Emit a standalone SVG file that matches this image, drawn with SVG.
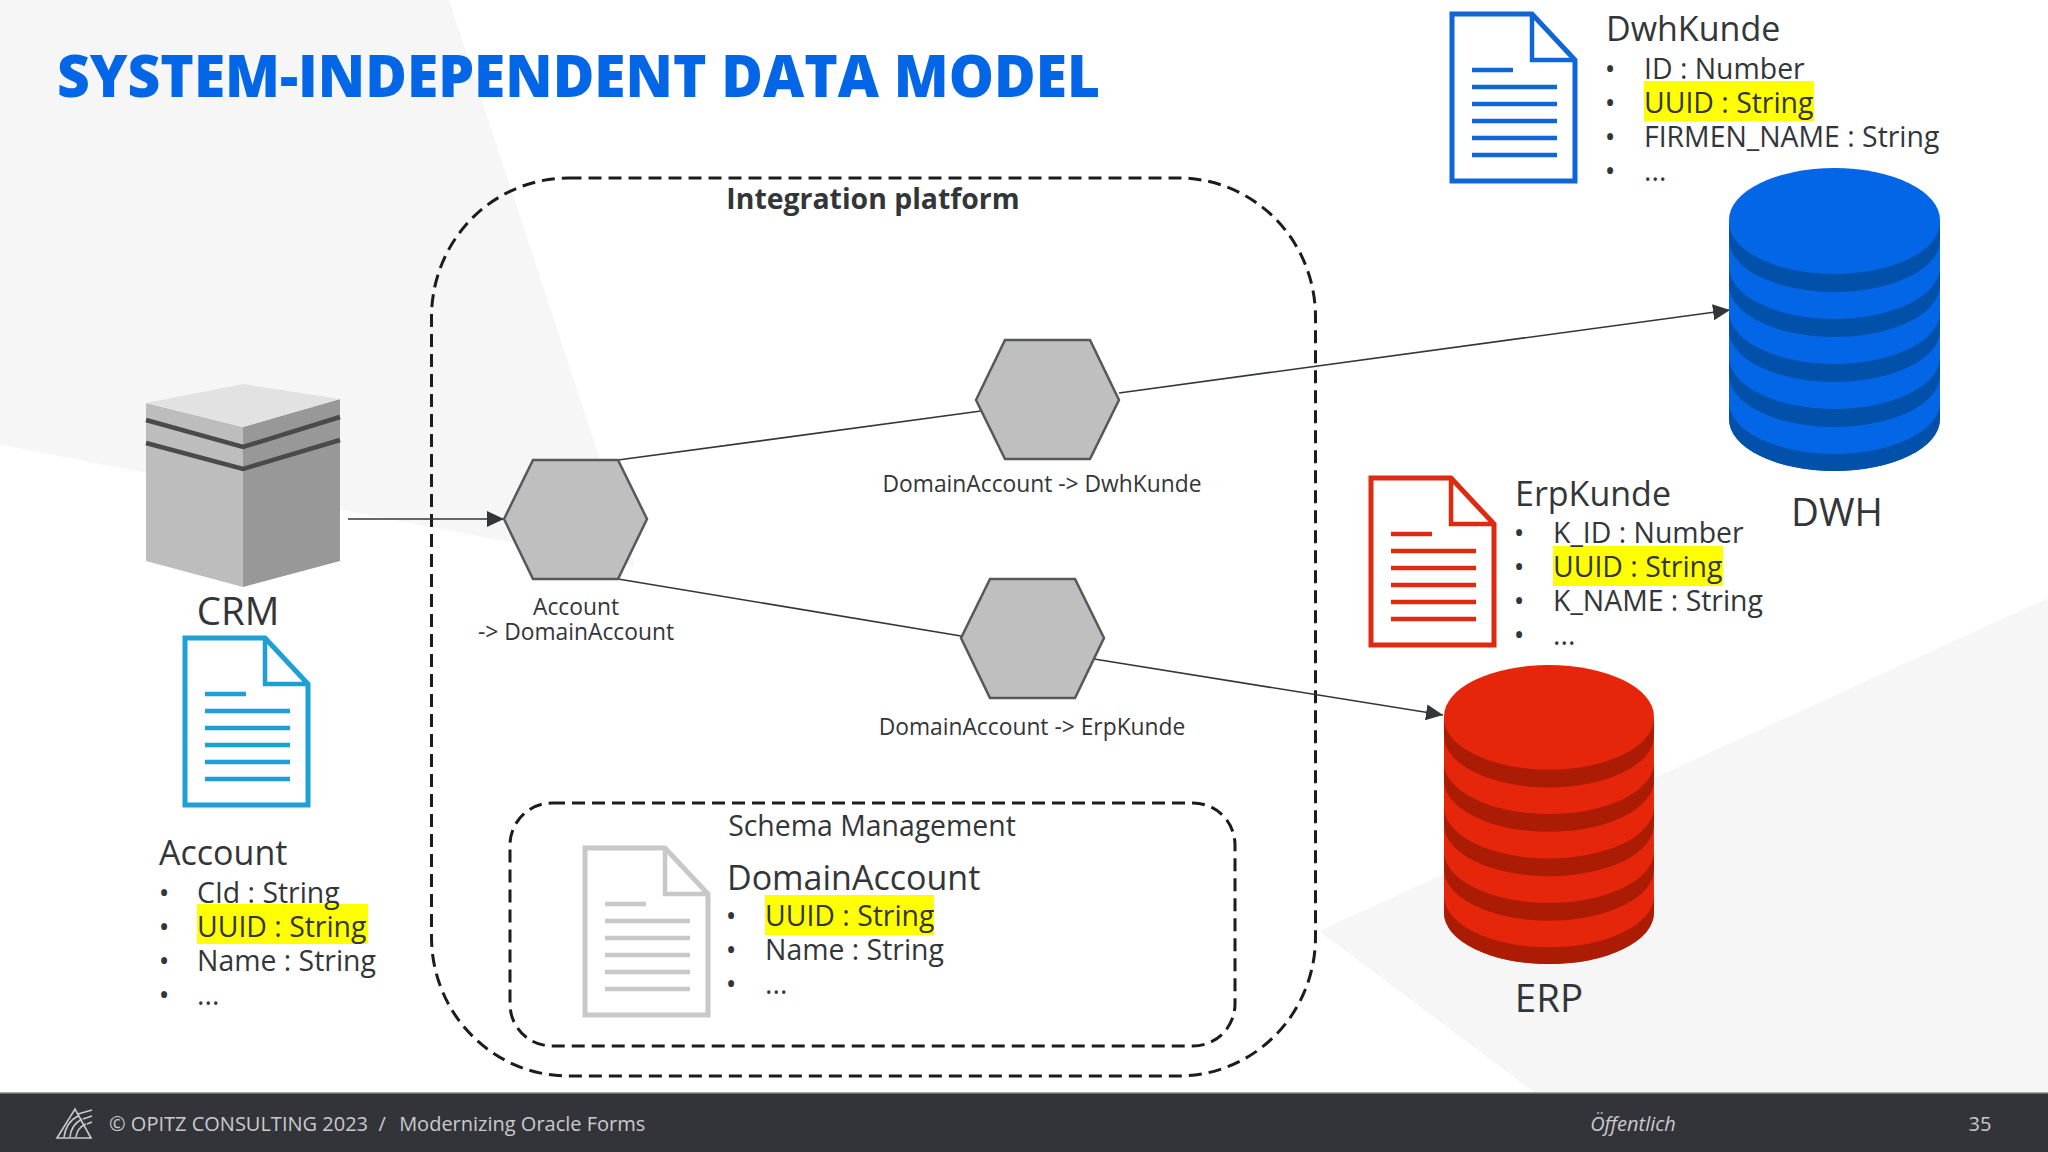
<svg xmlns="http://www.w3.org/2000/svg" width="2048" height="1152" viewBox="0 0 2048 1152">
<style>
text{font-family:"Open Sans","Noto Sans",sans-serif;fill:#333639}
.h{font-size:34px}
.a{font-size:28.4px}
.l{font-size:22.8px}
.n{font-size:38.5px}
.f{font-size:20px;fill:#c9cacc}
.hl{fill:#ffff00}
.dash{fill:none;stroke:#1c1c1c;stroke-width:3;stroke-dasharray:13 7}
.hex{fill:#bfbfbf;stroke:#55585c;stroke-width:2.5}
.conn{fill:none;stroke:#333639;stroke-width:1.7;marker-end:url(#arrow)}
.plain{fill:none;stroke:#333639;stroke-width:1.7}
.doc{fill:#fff;stroke-width:5}
.docl{fill:none;stroke-width:4.5}
</style>
<defs>
<marker id="arrow" markerUnits="userSpaceOnUse" markerWidth="18" markerHeight="16" refX="17" refY="8" orient="auto"><path d="M0,0 L17,8 L0,16 z" fill="#333639"/></marker>
<g id="docshape">
<path class="doc" d="M0,0 H80 L123,46 V167 H0 Z"/>
<path class="docl" d="M80,0 V46 H123"/>
<path class="docl" d="M20,56 H61 M20,73 H105 M20,90 H105 M20,107 H105 M20,124 H105 M20,141 H105"/>
</g>
<path id="cylbody" d="M0,52 A105.5,52 0 0 1 211,52 V251 A105.5,52 0 0 1 0,251 Z"/>
<path id="cylbands" d="M0,54 A105.5,52 0 0 0 211,54 V72 A105.5,52 0 0 1 0,72 Z M0,99 A105.5,52 0 0 0 211,99 V117 A105.5,52 0 0 1 0,117 Z M0,144 A105.5,52 0 0 0 211,144 V162 A105.5,52 0 0 1 0,162 Z M0,189 A105.5,52 0 0 0 211,189 V207 A105.5,52 0 0 1 0,207 Z M0,234 A105.5,52 0 0 0 211,234 V251 A105.5,52 0 0 1 0,251 Z"/>
</defs>
<rect width="2048" height="1152" fill="#fff"/>
<g id="background">
<path d="M0,0 H449 L635,566 L0,445 Z" fill="#f6f6f7"/>
<path d="M2048,598 L1319,931 L1535,1093 H2048 Z" fill="#f6f6f7"/>
</g>
<text x="57" y="97" font-size="59" font-weight="800" textLength="1043" lengthAdjust="spacingAndGlyphs" style="fill:#0366e6">SYSTEM-INDEPENDENT DATA MODEL</text>

<g id="integration-platform">
<rect class="dash" x="431.5" y="178" width="884" height="898" rx="137" ry="139"/>
<text x="873" y="209" font-size="28.4" font-weight="700" text-anchor="middle">Integration platform</text>
</g>
<g id="schema-management">
<rect class="dash" x="510" y="803" width="725" height="243" rx="42" ry="42"/>
<text x="872" y="836" font-size="28.4" text-anchor="middle">Schema Management</text>
<use href="#docshape" x="585" y="848" stroke="#c8c8c8"/>
<text class="h" x="727" y="890">DomainAccount</text>
<rect class="hl" x="765" y="895" width="169" height="40"/>
<text class="a" x="731" y="926" text-anchor="middle">•</text><text class="a" x="765" y="926">UUID : String</text>
<text class="a" x="731" y="960" text-anchor="middle">•</text><text class="a" x="765" y="960">Name : String</text>
<text class="a" x="731" y="994" text-anchor="middle">•</text><text class="a" x="765" y="994">...</text>
</g>

<g id="connectors">
<path class="conn" d="M348,519 H504"/>
<path class="plain" d="M618,460 L981,411"/>
<path class="conn" d="M1119,393 L1730,310"/>
<path class="plain" d="M618,579 L961,636"/>
<path class="conn" d="M1094,659 L1443,715"/>
</g>

<g id="crm">
<path d="M146,403 L243,427 V587 L146,561 Z" fill="#bdbdbd"/>
<path d="M243,427 L340,399 V561 L243,587 Z" fill="#989898"/>
<path d="M146,403 L243,384 L340,399 L243,427 Z" fill="#e2e2e2"/>
<path d="M146,420 L243,447 L340,417 M146,443 L243,469 L340,440" fill="none" stroke="#4a4a4a" stroke-width="4.5"/>
<text class="n" x="238" y="625" text-anchor="middle">CRM</text>
</g>
<g id="account">
<use href="#docshape" x="185" y="638" stroke="#1e9fd6"/>
<text class="h" x="159" y="865">Account</text>
<rect class="hl" x="197" y="904" width="171" height="40"/>
<text class="a" x="164" y="903" text-anchor="middle">•</text><text class="a" x="197" y="903">CId : String</text>
<text class="a" x="164" y="937" text-anchor="middle">•</text><text class="a" x="197" y="937">UUID : String</text>
<text class="a" x="164" y="971" text-anchor="middle">•</text><text class="a" x="197" y="971">Name : String</text>
<text class="a" x="164" y="1005" text-anchor="middle">•</text><text class="a" x="197" y="1005">...</text>
</g>
<g id="hex-account">
<path class="hex" d="M504,519 L533,460 H618 L647,519 L618,579 H533 Z"/>
<text class="l" x="576" y="615" text-anchor="middle">Account</text>
<text class="l" x="576" y="640" text-anchor="middle">-&gt; DomainAccount</text>
</g>
<g id="hex-dwh">
<path class="hex" d="M976,400 L1005,340 H1090 L1119,400 L1090,459 H1005 Z"/>
<text class="l" x="1042" y="492" text-anchor="middle">DomainAccount -&gt; DwhKunde</text>
</g>
<g id="hex-erp">
<path class="hex" d="M961,638 L990,579 H1075 L1104,638 L1075,698 H990 Z"/>
<text class="l" x="1032" y="735" text-anchor="middle">DomainAccount -&gt; ErpKunde</text>
</g>
<g id="dwh">
<use href="#cylbody" x="1729" y="168" fill="#0366e6"/>
<use href="#cylbands" x="1729" y="168" fill="#0150aa"/>
<text class="n" x="1837" y="526" text-anchor="middle">DWH</text>
</g>
<g id="dwhkunde">
<use href="#docshape" x="1452" y="14" stroke="#0f66d8"/>
<text class="h" x="1606" y="41">DwhKunde</text>
<rect class="hl" x="1644" y="81" width="170" height="40"/>
<text class="a" x="1610" y="79" text-anchor="middle">•</text><text class="a" x="1644" y="79">ID : Number</text>
<text class="a" x="1610" y="113" text-anchor="middle">•</text><text class="a" x="1644" y="113">UUID : String</text>
<text class="a" x="1610" y="147" text-anchor="middle">•</text><text class="a" x="1644" y="147">FIRMEN_NAME : String</text>
<text class="a" x="1610" y="181" text-anchor="middle">•</text><text class="a" x="1644" y="181">...</text>
</g>
<g id="erp">
<g transform="translate(1444,665) scale(0.995,0.987)">
<use href="#cylbody" fill="#e6260a"/>
<use href="#cylbands" fill="#ac1c04"/>
</g>
<text class="n" x="1549" y="1012" text-anchor="middle">ERP</text>
</g>
<g id="erpkunde">
<use href="#docshape" x="1371" y="478" stroke="#dd2a10"/>
<text class="h" x="1515" y="506">ErpKunde</text>
<rect class="hl" x="1553" y="546" width="170" height="40"/>
<text class="a" x="1519" y="543" text-anchor="middle">•</text><text class="a" x="1553" y="543">K_ID : Number</text>
<text class="a" x="1519" y="577" text-anchor="middle">•</text><text class="a" x="1553" y="577">UUID : String</text>
<text class="a" x="1519" y="611" text-anchor="middle">•</text><text class="a" x="1553" y="611">K_NAME : String</text>
<text class="a" x="1519" y="645" text-anchor="middle">•</text><text class="a" x="1553" y="645">...</text>
</g>
<g id="footer">
<rect y="1093" width="2048" height="59" fill="#33343a"/>
<rect y="1092" width="2048" height="1.5" fill="#a5a6a8"/>
<path d="M57,1138 L75,1109 L91,1138 Z M64,1137 Q66,1122 78,1116 M70,1137 Q71,1125 82,1119 M76,1137 Q77,1128 86,1124 M78,1114 L92,1110 M83,1119 L92,1116 M87,1124 L92,1122" fill="none" stroke="#c9cacc" stroke-width="1.6"/>
<text class="f" x="109" y="1131">© OPITZ CONSULTING 2023&#160;&#160;/&#160;&#160;<tspan dx="3">Modernizing Oracle Forms</tspan></text>
<text class="f" x="1633" y="1131" text-anchor="middle" font-style="italic">Öffentlich</text>
<text class="f" x="1980" y="1131" text-anchor="middle">35</text>
</g>
</svg>
